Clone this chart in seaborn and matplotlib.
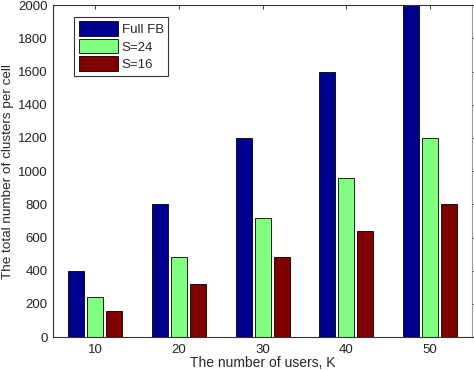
import numpy as np
import pandas as pd
import matplotlib
matplotlib.use('Agg')
import matplotlib.pyplot as plt
import seaborn as sns

# Data
users = [10, 20, 30, 40, 50]
full_fb = [400, 800, 1200, 1600, 2000]
s24 = [240, 480, 720, 960, 1200]
s16 = [160, 320, 480, 640, 800]
series = ['Full FB', 'S=24', 'S=16']
colors = ['#00008F', '#80FF80', '#800000']

df = pd.DataFrame({
    'K': users * 3,
    'clusters': full_fb + s24 + s16,
    'scheme': [s for s in series for _ in users],
})

sns.set_style('white')
plt.rcParams['font.family'] = ['Liberation Sans', 'DejaVu Sans']

fig = plt.figure(figsize=(4.74, 3.7), dpi=100)
ax = fig.add_axes([0.112, 0.089, 0.884, 0.897])
sns.barplot(data=df, x='K', y='clusters', hue='scheme', hue_order=series,
            palette=colors, width=0.68, gap=0.16, edgecolor='black',
            linewidth=0.6, saturation=1, ax=ax)

ax.set_ylim(0, 2000)
ax.set_xlim(-0.5, 4.5)
ax.set_yticks(np.arange(0, 2001, 200))
ax.set_xlabel('The number of users, K', fontsize=10, labelpad=0)
ax.set_ylabel('The total number of clusters per cell', fontsize=9.7, labelpad=3)
ax.tick_params(axis='both', labelsize=9.5, colors='#222222')
ax.tick_params(axis='y', direction='out', length=3, width=0.6, pad=1, right=True)
ax.tick_params(axis='x', direction='in', length=3, width=0.6, top=True, bottom=False, pad=5)
for side in ['left', 'bottom', 'top']:
    ax.spines[side].set_color('#333333')
    ax.spines[side].set_linewidth(0.8)
ax.spines['right'].set_color('#999999')

leg = ax.legend(loc='upper left', bbox_to_anchor=(0.05, 0.965), borderaxespad=0,
                fontsize=9.5, frameon=True, fancybox=False, edgecolor='black',
                handlelength=2.95, handleheight=1.3, borderpad=0.35,
                labelspacing=0.22, handletextpad=0.3)
leg.get_frame().set_linewidth(0.8)

fig.savefig('out.png', dpi=100)
